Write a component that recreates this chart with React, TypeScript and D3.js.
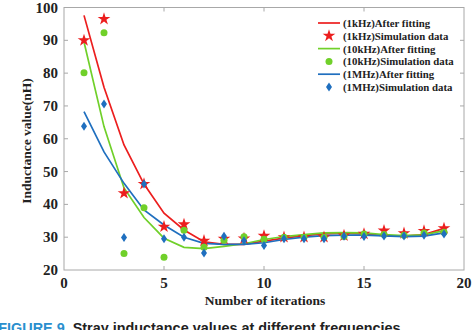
import React from "react";
import * as d3 from "d3";

const iterations = [1, 2, 3, 4, 5, 6, 7, 8, 9, 10, 11, 12, 13, 14, 15, 16, 17, 18, 19];

const sim1k = [90, 96.5, 43.4, 46.2, 33.2, 33.9, 28.9, 29.5, 29.6, 30.4, 30, 30, 30, 30.5, 31, 32, 31.2, 31.9, 32.7];
const fit1k = [97.6, 75.7, 58.1, 46.2, 37.3, 32.2, 28.6, 27.8, 27.8, 28.8, 29.7, 30.5, 31, 31.2, 31, 30.5, 30.3, 30.8, 32.7];

const sim10k = [80.1, 92.3, 25.0, 39.0, 23.9, 32.1, 26.9, 29.1, 30.1, 29.4, 30, 30, 30, 30.2, 31, 30.8, 30.6, 31.3, 31.5];
const fit10k = [89.5, 63.7, 45, 36, 29.7, 26.9, 26.5, 27.2, 28, 29.3, 30.2, 30.8, 31.3, 31.4, 31.3, 30.8, 30.5, 30.7, 32];

const sim1M = [63.8, 70.6, 29.9, 46.2, 29.5, 30.0, 25.2, 30.3, 28.9, 27.5, 29.5, 29.5, 29.5, 30.3, 30.2, 30.4, 30.4, 30.6, 31.0];
const fit1M = [68.3, 56, 46.4, 38.3, 33.7, 30, 28.1, 27.8, 27.8, 28.3, 29.3, 30, 30.5, 30.6, 30.6, 30.4, 30.2, 30.3, 31.3];

const xTicks = [0, 5, 10, 15, 20];
const yTicks = [20, 30, 40, 50, 60, 70, 80, 90, 100];

const legendLabels = [
  "(1kHz)After fitting",
  "(1kHz)Simulation data",
  "(10kHz)After fitting",
  "(10kHz)Simulation data",
  "(1MHz)After fitting",
  "(1MHz)Simulation data",
];

const RED = "#ec1e1e";
const GREEN = "#70d02a";
const BLUE = "#1f6fbf";

const serif = "'Liberation Serif', 'Times New Roman', serif";

export default function App() {
  const W = 474, H = 330;
  const L = 64, R = 464, T = 7.5, B = 270;
  const x = d3.scaleLinear().domain([0, 20]).range([L, R]);
  const y = d3.scaleLinear().domain([20, 100]).range([B, T]);
  const line = d3.line<number>().x((_, i) => x(iterations[i])).y((d) => y(d));

  const star = d3.symbol().type(d3.symbolStar).size(50)() as string;
  const diamond = "M0,-4.5L3,0L0,4.5L-3,0Z";

  const fits = [
    { v: fit1k, c: RED },
    { v: fit10k, c: GREEN },
    { v: fit1M, c: BLUE },
  ];

  const legX = 318, legTx = 343, legY0 = 23, legDy = 12.8;

  return (
    <svg width={W} height={H} style={{ position: "absolute", left: 0, top: 0, background: "#fff" }}>
      <rect x={L} y={T} width={R - L} height={B - T} fill="#fff" stroke="#a8a8a8" strokeWidth={1} />
      {xTicks.slice(1, -1).map((t) => (
        <g key={"xt" + t}>
          <line x1={x(t)} x2={x(t)} y1={B} y2={B - 4} stroke="#a8a8a8" />
          <line x1={x(t)} x2={x(t)} y1={T} y2={T + 4} stroke="#a8a8a8" />
        </g>
      ))}
      {yTicks.slice(1, -1).map((t) => (
        <g key={"yt" + t}>
          <line x1={L} x2={L + 4} y1={y(t)} y2={y(t)} stroke="#a8a8a8" />
          <line x1={R} x2={R - 4} y1={y(t)} y2={y(t)} stroke="#a8a8a8" />
        </g>
      ))}
      {xTicks.map((t) => (
        <text key={"xl" + t} x={x(t)} y={B + 18} textAnchor="middle" fontFamily={serif} fontWeight="bold" fontSize={15} fill="#222">
          {t}
        </text>
      ))}
      {yTicks.map((t) => (
        <text key={"yl" + t} x={L - 6} y={y(t) + 5} textAnchor="end" fontFamily={serif} fontWeight="bold" fontSize={15} fill="#222">
          {t}
        </text>
      ))}
      <text x={265} y={305} textAnchor="middle" fontFamily={serif} fontWeight="bold" fontSize={13.5} fill="#222">
        Number of iterations
      </text>
      <text transform={`translate(31,141) rotate(-90)`} textAnchor="middle" fontFamily={serif} fontWeight="bold" fontSize={13.5} fill="#222">
        Inductance value(nH)
      </text>

      {fits.map((f, i) => (
        <path key={"f" + i} d={line(f.v) as string} fill="none" stroke={f.c} strokeWidth={1.7} />
      ))}

      {sim1k.map((v, i) => (
        <path key={"s" + i} d={star} transform={`translate(${x(iterations[i])},${y(v)})`} fill={RED} />
      ))}
      {sim10k.map((v, i) => (
        <circle key={"c" + i} cx={x(iterations[i])} cy={y(v)} r={3.5} fill={GREEN} />
      ))}
      {sim1M.map((v, i) => (
        <path key={"d" + i} d={diamond} transform={`translate(${x(iterations[i])},${y(v)})`} fill={BLUE} />
      ))}

      {legendLabels.map((lab, i) => {
        const yy = legY0 + i * legDy;
        const c = [RED, RED, GREEN, GREEN, BLUE, BLUE][i];
        return (
          <g key={"lg" + i}>
            {i % 2 === 0 ? (
              <line x1={legX} x2={legX + 22} y1={yy} y2={yy} stroke={c} strokeWidth={1.7} />
            ) : i === 1 ? (
              <path d={star} transform={`translate(${legX + 11},${yy})`} fill={c} />
            ) : i === 3 ? (
              <circle cx={legX + 11} cy={yy} r={3.5} fill={c} />
            ) : (
              <path d={diamond} transform={`translate(${legX + 11},${yy})`} fill={c} />
            )}
            <text x={legTx} y={yy + 4} fontFamily={serif} fontWeight="bold" fontSize={10.8} fill="#222">
              {lab}
            </text>
          </g>
        );
      })}

      <text x={-1.7} y={333.3} fontFamily="'Liberation Sans', Arial, sans-serif" fontWeight="bold" fontSize={14.4}>
        <tspan fill="#2a8fce">FIGURE 9.</tspan>
        <tspan fill="#222"> Stray inductance values at different frequencies</tspan>
      </text>
    </svg>
  );
}
